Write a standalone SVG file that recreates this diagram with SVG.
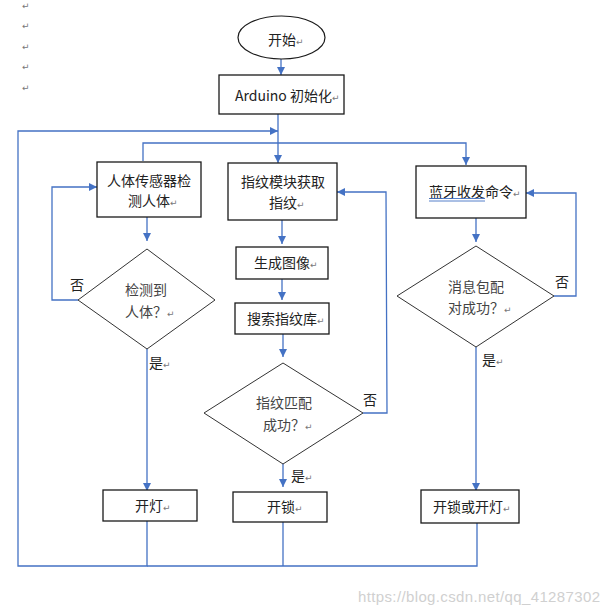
<svg xmlns="http://www.w3.org/2000/svg" width="611" height="613" viewBox="0 0 611 613">
<defs>
<style>
.box{fill:#fff;stroke:#1a1a1a;stroke-width:1.3}
.dia{fill:#fff;stroke:#333;stroke-width:1}
.ln{fill:none;stroke:#4472C4;stroke-width:1.3}
.t{font-family:"Noto Sans CJK SC","Noto Sans",sans-serif;font-size:14px;fill:#222}
.td{font-family:"Noto Sans CJK SC","Noto Sans",sans-serif;font-size:14px;fill:#444}
.rm{font-family:"DejaVu Sans",sans-serif;font-size:9px;fill:#777}
.wm{font-family:"Liberation Sans",Arial,sans-serif;font-size:15px;fill:#d0d0d0}
</style>
<marker id="ah" markerWidth="8" markerHeight="8" refX="8" refY="4" orient="auto" markerUnits="userSpaceOnUse">
<path d="M0,0 L8,4 L0,8 Z" fill="#4472C4"/>
</marker>
</defs>
<rect width="611" height="613" fill="#fff"/>
<g id="marks">
<text class="rm" x="22" y="9">↵</text>
<text class="rm" x="22" y="29">↵</text>
<text class="rm" x="22" y="50">↵</text>
<text class="rm" x="22" y="70">↵</text>
<text class="rm" x="22" y="91">↵</text>
</g>
<g id="connectors">
<line class="ln" x1="281" y1="59" x2="281" y2="75" marker-end="url(#ah)"/>
<line class="ln" x1="278" y1="114" x2="278" y2="163" marker-end="url(#ah)"/>
<polyline class="ln" points="143,161 143,143 466,143 466,165" marker-end="url(#ah)"/>
<polyline class="ln" points="147,521 147,566 18,566 18,131 278,131" marker-end="url(#ah)"/>
<line class="ln" x1="283" y1="522" x2="283" y2="566"/>
<polyline class="ln" points="477,523 477,566 147,566"/>
<line class="ln" x1="147" y1="217" x2="147" y2="241" marker-end="url(#ah)"/>
<polyline class="ln" points="78,300 52,300 52,187 97,187" marker-end="url(#ah)"/>
<line class="ln" x1="147" y1="349" x2="147" y2="491" marker-end="url(#ah)"/>
<line class="ln" x1="282" y1="220" x2="282" y2="244" marker-end="url(#ah)"/>
<line class="ln" x1="282" y1="279" x2="282" y2="300" marker-end="url(#ah)"/>
<line class="ln" x1="283" y1="334" x2="283" y2="357" marker-end="url(#ah)"/>
<polyline class="ln" points="363,413 387,413 386,192 337,192" marker-end="url(#ah)"/>
<line class="ln" x1="283" y1="464" x2="283" y2="487" marker-end="url(#ah)"/>
<line class="ln" x1="476" y1="218" x2="476" y2="242" marker-end="url(#ah)"/>
<polyline class="ln" points="554,296 576,296 576,193 526,193" marker-end="url(#ah)"/>
<line class="ln" x1="476" y1="347" x2="476" y2="491" marker-end="url(#ah)"/>
</g>
<g id="start">
<ellipse cx="281.5" cy="37.5" rx="43.5" ry="21.5" fill="#fff" stroke="#1a1a1a" stroke-width="1.2"/>
<text class="t" x="268" y="45">开始<tspan class="rm">↵</tspan></text>
</g>
<g id="init">
<rect class="box" x="219" y="75" width="125" height="39"/>
<text class="t" x="235" y="101">Arduino 初始化<tspan class="rm">↵</tspan></text>
</g>
<g id="sensor">
<rect class="box" x="97" y="162" width="104" height="55"/>
<text class="t" x="107" y="186">人体传感器检</text>
<text class="t" x="128" y="206">测人体<tspan class="rm">↵</tspan></text>
</g>
<g id="detect">
<polygon class="dia" points="147,249 215,300 147,349 78,300"/>
<text class="td" x="125" y="295">检测到</text>
<text class="td" x="125" y="317">人体？<tspan class="rm">↵</tspan></text>
<text class="t" x="70" y="290">否</text>
<text class="t" x="149" y="368">是<tspan class="rm">↵</tspan></text>
</g>
<g id="finger">
<rect class="box" x="228" y="163" width="109" height="57"/>
<text class="t" x="241" y="187">指纹模块获取</text>
<text class="t" x="269" y="208">指纹<tspan class="rm">↵</tspan></text>
</g>
<g id="image">
<rect class="box" x="236" y="247" width="92" height="32"/>
<text class="t" x="254" y="268">生成图像<tspan class="rm">↵</tspan></text>
</g>
<g id="search">
<rect class="box" x="235" y="303" width="94" height="31"/>
<text class="t" x="247" y="324">搜索指纹库<tspan class="rm">↵</tspan></text>
</g>
<g id="match">
<polygon class="dia" points="283,363 363,413 283,464 204,413"/>
<text class="td" x="256" y="408">指纹匹配</text>
<text class="td" x="263" y="430">成功？<tspan class="rm">↵</tspan></text>
<text class="t" x="363" y="405">否</text>
<text class="t" x="291" y="481">是<tspan class="rm">↵</tspan></text>
</g>
<g id="bt">
<rect class="box" x="416" y="166" width="110" height="52"/>
<text class="t" x="429" y="197">蓝牙收发命令<tspan class="rm">↵</tspan></text>
<line x1="429" y1="198.5" x2="485" y2="198.5" stroke="#4472C4" stroke-width="0.9"/>
<line x1="429" y1="201" x2="485" y2="201" stroke="#4472C4" stroke-width="0.9"/>
</g>
<g id="msg">
<polygon class="dia" points="476,246 554,296 476,347 397,296"/>
<text class="td" x="448" y="292">消息包配</text>
<text class="td" x="448" y="313">对成功？<tspan class="rm">↵</tspan></text>
<text class="t" x="555" y="287">否</text>
<text class="t" x="482" y="365">是<tspan class="rm">↵</tspan></text>
</g>
<g id="light">
<rect class="box" x="103" y="490" width="94" height="31"/>
<text class="t" x="135" y="511">开灯<tspan class="rm">↵</tspan></text>
</g>
<g id="unlock">
<rect class="box" x="233" y="492" width="94" height="30"/>
<text class="t" x="267" y="512">开锁<tspan class="rm">↵</tspan></text>
</g>
<g id="both">
<rect class="box" x="421" y="490" width="98" height="33"/>
<text class="t" x="433" y="512">开锁或开灯<tspan class="rm">↵</tspan></text>
</g>
<text class="wm" x="358" y="602" textLength="242">https://blog.csdn.net/qq_41287302</text>
</svg>
